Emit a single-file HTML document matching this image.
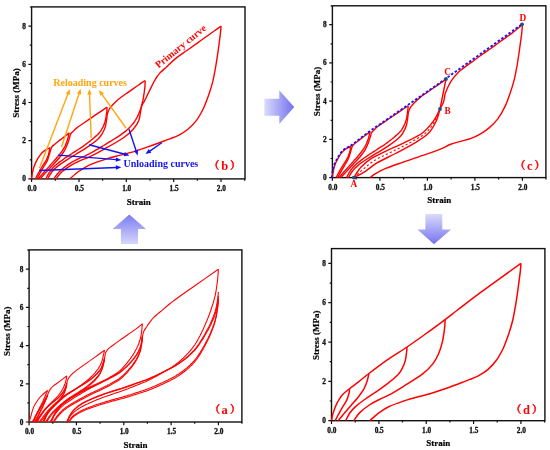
<!DOCTYPE html>
<html><head><meta charset="utf-8"><title>Stress-strain</title>
<style>html,body{margin:0;padding:0;background:#fff;}svg{display:block;}</style></head>
<body><svg width="550" height="450" viewBox="0 0 550 450">
<rect width="550" height="450" fill="#fff"/>
<defs>
<linearGradient id="gu" x1="0" y1="0" x2="0" y2="1"><stop offset="0" stop-color="#7b7bf2"/><stop offset="1" stop-color="#d6d6fc"/></linearGradient>
<linearGradient id="gr" x1="0" y1="0" x2="1" y2="0"><stop offset="0" stop-color="#dadafc"/><stop offset="1" stop-color="#7171f0"/></linearGradient>
<linearGradient id="gd" x1="0" y1="0" x2="0" y2="1"><stop offset="0" stop-color="#dadafc"/><stop offset="1" stop-color="#7474f0"/></linearGradient>
</defs>
<path d="M129.3 214.4 L146 229 L138 229 L138 244 L120.9 244 L120.9 229 L112.7 229 Z" fill="url(#gu)"/>
<path d="M294.2 107 L279.3 124 L279.3 115.7 L264.4 115.7 L264.4 98.7 L279.3 98.7 L279.3 90.2 Z" fill="url(#gr)"/>
<path d="M434 244.2 L451 229.6 L442.3 229.6 L442.3 214 L425.4 214 L425.4 229.6 L417.4 229.6 Z" fill="url(#gd)"/>
<rect x="29.1" y="249.9" width="212.8" height="172.1" fill="none" stroke="#111" stroke-width="1.4"/>
<path d="M29.1 422v3.2M52.8 422v1.8M76.4 422v3.2M100.1 422v1.8M123.8 422v3.2M147.4 422v1.8M171.1 422v3.2M194.7 422v1.8M218.4 422v3.2M241.9 422v1.8M29.1 422h-3.2M29.1 402.9h-1.8M29.1 383.8h-3.2M29.1 364.7h-1.8M29.1 345.6h-3.2M29.1 326.5h-1.8M29.1 307.4h-3.2M29.1 288.3h-1.8M29.1 269.2h-3.2M29.1 250.1h-1.8" stroke="#111" stroke-width="1.2" fill="none"/>
<g font-family="'Liberation Serif','Times New Roman',serif" font-weight="bold" font-size="7.3" fill="#111" stroke="#111" stroke-width="0.3"><text x="29.5" y="434.4" text-anchor="middle">0.0</text><text x="76.8" y="434.4" text-anchor="middle">0.5</text><text x="124.2" y="434.4" text-anchor="middle">1.0</text><text x="171.5" y="434.4" text-anchor="middle">1.5</text><text x="218.8" y="434.4" text-anchor="middle">2.0</text><text x="23.4" y="424.5" text-anchor="end">0</text><text x="23.4" y="386.3" text-anchor="end">2</text><text x="23.4" y="348.1" text-anchor="end">4</text><text x="23.4" y="309.9" text-anchor="end">6</text><text x="23.4" y="271.7" text-anchor="end">8</text></g>
<text transform="translate(9.6 331.2) rotate(-90)" text-anchor="middle" font-family="'Liberation Serif','Times New Roman',serif" font-weight="bold" font-size="9" fill="#000" stroke="#000" stroke-width="0.2">Stress (MPa)</text>
<text x="135.5" y="448" text-anchor="middle" font-family="'Liberation Serif','Times New Roman',serif" font-weight="bold" font-size="9" fill="#000" stroke="#000" stroke-width="0.2">Strain</text>
<g fill="none" stroke="#f00" stroke-width="1.1" stroke-linejoin="round"><path d="M29.1 422C29.2 421.7 29.4 421 29.7 420.1C30 419.1 30.1 418.5 30.8 416.3C31.5 414.1 32.5 409.6 33.7 406.9C34.9 404.2 36.6 401.8 38 399.8C39.4 397.8 40.7 396.4 42.3 394.9C43.8 393.3 46.7 391.2 47.6 390.5" /><path d="M32.1 422L32.2 421.9L32.3 421.7L32.4 421.6L32.5 421.4L32.6 421.3L32.8 421L33 420.7L33.2 420.4L33.4 420L33.7 419.5L34 418.9L34.3 418.2L34.7 417.4L35.1 416.6L35.6 415.8L36 414.9L36.5 413.9L37 413L37.4 412.1L37.8 411.3L38.3 410.4L38.7 409.6L39.1 408.7L39.6 407.9L40 407L40.5 406.1L40.9 405.3L41.3 404.4L41.8 403.6L42.2 402.8L42.6 401.9L42.9 401.1L43.3 400.3L43.7 399.4L44.1 398.6L44.4 397.8L44.8 397L45.1 396.2L45.4 395.5L45.7 394.9L46 394.3L46.2 393.7L46.4 393.2L46.7 392.7L46.9 392.2L47 391.8L47.2 391.4L47.3 391L47.5 390.7L47.6 390.5"/><path d="M32.8 422L32.9 421.8L33 421.6L33 421.3L33.2 421.1L33.3 420.9L33.4 420.6L33.6 420.2L33.8 419.8L34 419.4L34.3 418.8L34.6 418.2L34.9 417.5L35.3 416.8L35.7 416L36.1 415.1L36.5 414.3L37 413.5L37.4 412.7L37.8 411.9L38.3 411.2L38.7 410.4L39.1 409.7L39.5 409L39.9 408.3L40.4 407.6L40.8 406.9L41.2 406.2L41.6 405.5L42 404.8L42.4 404.2L42.8 403.5L43.1 402.9L43.5 402.2L43.9 401.6L44.2 400.9L44.6 400.3L44.9 399.7L45.2 399.2L45.5 398.6L45.8 398.1L46 397.7L46.3 397.3L46.5 396.9L46.7 396.5L46.9 396.1L47.1 395.8L47.2 395.5L47.3 395.3L47.5 395.1L47.6 394.9"/><path d="M33.5 422L33.5 421.7L33.6 421.5L33.7 421.3L33.8 421L33.9 420.7L34.1 420.4L34.2 420.1L34.4 419.6L34.6 419.2L34.9 418.6L35.1 418L35.5 417.3L35.8 416.5L36.2 415.7L36.6 414.9L37 414L37.4 413.2L37.9 412.4L38.3 411.6L38.7 410.9L39.1 410.2L39.5 409.5L39.9 408.8L40.3 408.1L40.7 407.4L41.1 406.7L41.5 406L41.9 405.3L42.3 404.7L42.6 404L43 403.4L43.3 402.8L43.7 402.1L44 401.5L44.4 400.9L44.7 400.3L45 399.7L45.3 399.2L45.6 398.7L45.9 398.2L46.1 397.8L46.3 397.4L46.5 397L46.7 396.6L46.9 396.3L47.1 396L47.2 395.7L47.4 395.5L47.5 395.2L47.6 395.1"/><path d="M34.3 422L34.4 421.9L34.4 421.8L34.5 421.7L34.6 421.5L34.7 421.4L34.9 421.2L35 420.9L35.2 420.6L35.4 420.3L35.6 419.9L35.9 419.4L36.2 418.8L36.5 418.1L36.9 417.4L37.3 416.7L37.7 415.9L38.1 415.2L38.4 414.4L38.8 413.6L39.2 412.9L39.6 412.2L40 411.5L40.3 410.7L40.7 410L41.1 409.3L41.5 408.6L41.9 407.8L42.2 407.1L42.6 406.4L42.9 405.7L43.3 405L43.6 404.3L43.9 403.6L44.3 402.8L44.6 402.1L44.9 401.4L45.2 400.8L45.5 400.1L45.7 399.6L46 399L46.2 398.5L46.4 398L46.6 397.5L46.8 397.1L47 396.7L47.1 396.3L47.2 396L47.4 395.7L47.5 395.5L47.6 395.3"/><path d="M35.1 422L35.1 421.9L35.2 421.8L35.3 421.7L35.4 421.6L35.5 421.4L35.6 421.3L35.7 421L35.9 420.8L36.1 420.4L36.3 420L36.6 419.6L36.8 419L37.2 418.4L37.5 417.7L37.9 417L38.2 416.2L38.6 415.5L39 414.7L39.3 414L39.7 413.3L40 412.6L40.4 411.8L40.7 411.1L41.1 410.4L41.5 409.7L41.8 408.9L42.2 408.2L42.5 407.5L42.9 406.7L43.2 406L43.5 405.3L43.8 404.6L44.1 403.9L44.4 403.2L44.7 402.4L45 401.7L45.3 401.1L45.6 400.4L45.8 399.8L46.1 399.3L46.3 398.8L46.5 398.3L46.7 397.8L46.8 397.3L47 396.9L47.1 396.6L47.3 396.2L47.4 395.9L47.5 395.7L47.6 395.5"/><path d="M35.5 422L35.8 421.7L36 421.3L36.3 420.9L36.7 420.4L37.1 419.9L37.5 419.4L37.9 418.8L38.4 418.2L38.8 417.6L39.3 416.9L39.7 416.3L40.2 415.6L40.7 414.9L41.2 414.1L41.8 413.4L42.3 412.6L42.9 411.8L43.4 411.1L44 410.3L44.6 409.6L45.2 408.9L45.8 408.2L46.5 407.5L47.1 406.8L47.8 406.1L48.4 405.4L49.1 404.7L49.8 404L50.5 403.4L51.2 402.7L51.8 402L52.5 401.3L53.3 400.6L54 399.9L54.7 399.2L55.4 398.6L56.1 397.9L56.8 397.2L57.4 396.5L58 395.8L58.6 395L59.2 394.3L59.7 393.6L60.3 392.8L60.8 392.1L61.3 391.3L61.8 390.6L62.2 389.8L62.6 389.1L63 388.4L63.4 387.7L63.7 387L64 386.2L64.3 385.5L64.6 384.8L64.8 384.1L65.1 383.4L65.3 382.8L65.5 382.1L65.7 381.5L65.9 380.9L66 380.2L66.2 379.6L66.3 378.9L66.4 378.3L66.5 377.7L66.6 377.2L66.6 376.7L66.7 376.3L66.8 376"/><path d="M36.5 422L36.7 421.5L37 420.9L37.3 420.4L37.6 419.8L38 419.2L38.4 418.6L38.8 417.9L39.2 417.3L39.7 416.6L40.1 416L40.6 415.4L41 414.7L41.5 414L42 413.3L42.5 412.6L43 411.8L43.6 411.1L44.1 410.4L44.7 409.8L45.3 409.1L45.9 408.5L46.5 407.9L47.1 407.3L47.7 406.7L48.4 406.1L49 405.6L49.7 405L50.3 404.4L51 403.8L51.6 403.3L52.3 402.7L53 402.1L53.7 401.6L54.4 401L55.1 400.5L55.7 399.9L56.4 399.4L57.1 398.8L57.7 398.3L58.3 397.7L58.9 397.2L59.4 396.6L59.9 396L60.5 395.4L61 394.9L61.4 394.3L61.9 393.7L62.3 393.1L62.8 392.6L63.1 392L63.5 391.5L63.8 391L64.1 390.4L64.4 389.9L64.7 389.4L64.9 388.8L65.1 388.3L65.3 387.8L65.5 387.3L65.7 386.9L65.9 386.4L66 385.9L66.2 385.5L66.3 385L66.4 384.5L66.5 384.1L66.6 383.7L66.7 383.4L66.7 383.1L66.8 382.8"/><path d="M37.4 422L37.6 421.4L37.9 420.8L38.2 420.2L38.5 419.6L38.9 418.9L39.3 418.3L39.7 417.6L40.1 416.9L40.5 416.3L41 415.6L41.4 415L41.8 414.3L42.3 413.6L42.8 412.8L43.3 412.1L43.8 411.4L44.3 410.7L44.8 410L45.4 409.3L45.9 408.7L46.5 408.1L47.1 407.5L47.7 406.9L48.3 406.3L48.9 405.7L49.6 405.1L50.2 404.6L50.8 404L51.5 403.4L52.1 402.9L52.7 402.3L53.4 401.8L54.1 401.2L54.7 400.7L55.4 400.1L56.1 399.6L56.7 399.1L57.4 398.5L58 398L58.6 397.4L59.1 396.9L59.6 396.3L60.2 395.8L60.7 395.2L61.1 394.6L61.6 394.1L62.1 393.5L62.5 393L62.9 392.4L63.2 391.9L63.6 391.4L63.9 390.9L64.2 390.3L64.5 389.8L64.7 389.3L65 388.8L65.2 388.3L65.4 387.8L65.6 387.4L65.7 386.9L65.9 386.5L66.1 386L66.2 385.5L66.3 385.1L66.4 384.7L66.5 384.3L66.6 383.9L66.7 383.5L66.7 383.3L66.8 383"/><path d="M39 422L39.2 421.8L39.5 421.5L39.7 421.1L40.1 420.7L40.4 420.3L40.8 419.8L41.2 419.3L41.6 418.8L42 418.3L42.4 417.8L42.8 417.2L43.2 416.6L43.6 416L44.1 415.4L44.6 414.8L45 414.1L45.5 413.5L46 412.8L46.6 412.2L47.1 411.6L47.6 411L48.2 410.4L48.7 409.8L49.3 409.2L49.9 408.7L50.5 408.1L51.1 407.5L51.7 406.9L52.3 406.4L52.9 405.8L53.5 405.2L54.1 404.6L54.8 404.1L55.4 403.5L56 402.9L56.7 402.4L57.3 401.8L57.9 401.2L58.5 400.6L59 400L59.5 399.4L60 398.8L60.5 398.2L61 397.5L61.5 396.9L61.9 396.3L62.3 395.7L62.7 395.1L63.1 394.4L63.4 393.8L63.8 393.2L64.1 392.6L64.3 392L64.6 391.4L64.8 390.8L65.1 390.3L65.3 389.7L65.5 389.1L65.6 388.6L65.8 388L66 387.5L66.1 387L66.2 386.4L66.3 385.9L66.4 385.4L66.5 384.9L66.6 384.4L66.7 384L66.7 383.7L66.8 383.4"/><path d="M40.3 422L40.5 421.8L40.7 421.5L40.9 421.2L41.2 420.8L41.6 420.4L41.9 420L42.3 419.5L42.7 419.1L43.1 418.6L43.4 418.1L43.8 417.6L44.2 417L44.7 416.4L45.1 415.8L45.6 415.2L46 414.6L46.5 413.9L47 413.3L47.5 412.7L48 412.1L48.5 411.5L49 410.9L49.5 410.3L50.1 409.8L50.7 409.2L51.2 408.6L51.8 408.1L52.4 407.5L52.9 406.9L53.5 406.4L54.1 405.8L54.7 405.2L55.3 404.7L55.9 404.1L56.5 403.5L57.1 402.9L57.7 402.4L58.3 401.8L58.8 401.2L59.4 400.6L59.8 400L60.3 399.4L60.8 398.7L61.3 398.1L61.7 397.5L62.1 396.9L62.5 396.2L62.9 395.6L63.3 395L63.6 394.4L63.9 393.8L64.2 393.2L64.5 392.6L64.7 392L64.9 391.4L65.1 390.8L65.3 390.2L65.5 389.6L65.7 389.1L65.8 388.5L66 388L66.1 387.4L66.2 386.9L66.4 386.3L66.4 385.8L66.5 385.3L66.6 384.8L66.7 384.4L66.7 384.1L66.8 383.8"/><path d="M42.8 422L43 421.7L43.2 421.3L43.4 420.8L43.7 420.2L44 419.6L44.3 419L44.7 418.3L45 417.6L45.5 416.9L45.9 416.3L46.4 415.6L46.8 414.9L47.3 414.2L47.9 413.4L48.4 412.7L49 411.9L49.7 411.1L50.4 410.2L51.2 409.3L52.1 408.4L53.1 407.3L54.2 406.2L55.3 405.1L56.6 403.9L57.9 402.7L59.2 401.4L60.5 400.2L61.9 399L63.2 397.9L64.4 396.9L65.7 395.9L66.9 394.9L68.2 394L69.4 393.2L70.7 392.3L72 391.5L73.2 390.7L74.4 389.9L75.6 389.1L76.8 388.2L77.9 387.4L79 386.6L80.1 385.8L81.2 385.1L82.2 384.3L83.3 383.5L84.3 382.7L85.3 382L86.3 381.2L87.3 380.3L88.2 379.5L89.2 378.7L90.1 377.8L91 377L91.9 376.1L92.8 375.3L93.6 374.4L94.4 373.5L95.2 372.6L95.9 371.7L96.6 370.8L97.2 370L97.9 369.1L98.5 368.2L99 367.3L99.6 366.4L100.1 365.4L100.5 364.5L101 363.4L101.5 362.4L101.9 361.2L102.3 359.9L102.7 358.6L103 357.1L103.3 355.7L103.6 354.3L103.9 353L104.2 351.9L104.4 350.9L104.5 350.2"/><path d="M43.6 422L43.7 421.3L43.9 420.7L44.2 420L44.4 419.2L44.7 418.5L45 417.7L45.4 416.9L45.8 416.1L46.2 415.3L46.6 414.5L47.1 413.8L47.6 413L48 412.3L48.6 411.5L49.1 410.7L49.7 409.9L50.4 409.1L51.1 408.2L51.9 407.3L52.7 406.4L53.7 405.4L54.8 404.4L55.9 403.3L57.2 402.2L58.4 401L59.7 399.9L61.1 398.8L62.4 397.7L63.7 396.7L64.9 395.8L66.1 394.9L67.4 394.1L68.6 393.3L69.9 392.6L71.1 391.8L72.4 391.1L73.6 390.4L74.8 389.7L76 389L77.1 388.3L78.2 387.6L79.3 387L80.4 386.3L81.5 385.6L82.5 385L83.5 384.4L84.6 383.7L85.5 383.1L86.5 382.4L87.5 381.7L88.4 381L89.3 380.4L90.3 379.7L91.2 379L92 378.3L92.9 377.6L93.7 376.9L94.5 376.2L95.3 375.5L96 374.7L96.7 374L97.3 373.3L97.9 372.6L98.5 371.9L99.1 371.2L99.6 370.5L100.1 369.8L100.6 369L101.1 368.2L101.5 367.4L101.9 366.5L102.3 365.5L102.7 364.4L103 363.3L103.4 362.2L103.7 361.2L103.9 360.2L104.2 359.3L104.4 358.6L104.5 358"/><path d="M44.3 422L44.5 421.2L44.7 420.5L44.9 419.7L45.2 418.9L45.5 418.1L45.8 417.3L46.1 416.4L46.5 415.6L46.9 414.8L47.3 414L47.8 413.2L48.3 412.4L48.7 411.7L49.3 410.9L49.8 410.1L50.4 409.2L51 408.4L51.7 407.5L52.5 406.6L53.4 405.7L54.3 404.7L55.4 403.7L56.5 402.6L57.8 401.4L59 400.3L60.3 399.2L61.6 398.1L62.9 397L64.2 396L65.4 395.1L66.6 394.3L67.8 393.4L69.1 392.7L70.3 391.9L71.5 391.2L72.8 390.5L74 389.8L75.2 389.1L76.3 388.4L77.4 387.8L78.6 387.1L79.6 386.4L80.7 385.8L81.8 385.1L82.8 384.5L83.8 383.9L84.8 383.2L85.8 382.6L86.7 382L87.7 381.3L88.6 380.6L89.5 380L90.4 379.3L91.3 378.6L92.2 378L93 377.3L93.9 376.6L94.6 375.9L95.4 375.2L96.1 374.5L96.8 373.8L97.4 373.2L98 372.5L98.6 371.8L99.2 371.1L99.7 370.4L100.2 369.7L100.6 369L101.1 368.2L101.5 367.4L101.9 366.5L102.3 365.6L102.7 364.5L103 363.5L103.4 362.4L103.7 361.4L103.9 360.5L104.2 359.6L104.4 358.9L104.5 358.4"/><path d="M45.9 422L46.1 421.7L46.3 421.3L46.5 420.9L46.8 420.4L47 419.9L47.4 419.4L47.7 418.8L48.1 418.2L48.5 417.6L48.9 417L49.3 416.4L49.8 415.7L50.2 415.1L50.7 414.5L51.3 413.8L51.8 413.1L52.5 412.4L53.1 411.6L53.9 410.9L54.7 410L55.7 409.1L56.7 408.2L57.8 407.2L59 406.1L60.2 405L61.5 403.9L62.8 402.9L64 401.8L65.3 400.9L66.5 399.9L67.6 399.1L68.8 398.3L70 397.5L71.2 396.7L72.4 396L73.6 395.2L74.8 394.5L75.9 393.8L77.1 393.1L78.2 392.4L79.2 391.7L80.3 391L81.3 390.3L82.4 389.6L83.4 388.9L84.4 388.2L85.3 387.5L86.3 386.9L87.2 386.2L88.1 385.4L89 384.7L89.9 384L90.8 383.2L91.7 382.5L92.5 381.7L93.3 381L94.1 380.2L94.9 379.4L95.6 378.7L96.3 377.9L97 377.1L97.6 376.3L98.2 375.5L98.8 374.8L99.3 374L99.8 373.2L100.3 372.3L100.7 371.5L101.2 370.6L101.6 369.7L102 368.7L102.4 367.5L102.7 366.3L103.1 365.1L103.4 363.8L103.7 362.6L103.9 361.5L104.2 360.5L104.4 359.6L104.5 359"/><path d="M46.7 422L46.9 421.8L47.1 421.4L47.3 421.1L47.5 420.6L47.8 420.1L48.1 419.6L48.4 419.1L48.8 418.5L49.2 417.9L49.6 417.4L50 416.8L50.5 416.2L50.9 415.6L51.4 415L51.9 414.4L52.5 413.7L53.1 413L53.8 412.3L54.6 411.5L55.4 410.7L56.3 409.8L57.3 408.9L58.4 407.9L59.6 406.9L60.8 405.8L62 404.8L63.3 403.7L64.5 402.7L65.8 401.7L66.9 400.8L68.1 400L69.3 399.2L70.5 398.4L71.7 397.6L72.8 396.9L74 396.2L75.2 395.4L76.3 394.7L77.4 394L78.5 393.3L79.6 392.6L80.6 391.9L81.6 391.2L82.7 390.5L83.6 389.8L84.6 389.2L85.6 388.5L86.5 387.8L87.4 387.1L88.3 386.4L89.2 385.6L90.1 384.9L91 384.1L91.8 383.4L92.7 382.6L93.5 381.9L94.3 381.1L95 380.3L95.8 379.5L96.4 378.7L97.1 378L97.7 377.2L98.3 376.4L98.8 375.6L99.4 374.8L99.9 374L100.3 373.2L100.8 372.3L101.2 371.4L101.6 370.4L102 369.4L102.4 368.3L102.8 367L103.1 365.8L103.4 364.5L103.7 363.3L104 362.1L104.2 361.1L104.4 360.2L104.5 359.5"/><path d="M50.1 422L50.5 421.4L50.9 420.6L51.5 419.7L52.1 418.7L52.8 417.6L53.5 416.5L54.2 415.4L55 414.2L55.8 413.2L56.6 412.2L57.3 411.3L58.1 410.4L58.8 409.6L59.5 408.8L60.3 407.9L61.2 407.1L62.1 406.3L63.2 405.3L64.4 404.4L65.8 403.3L67.4 402.2L69.2 401L71.3 399.7L73.4 398.3L75.6 396.9L77.8 395.5L80.1 394.2L82.2 392.9L84.2 391.7L86.1 390.6L87.8 389.6L89.5 388.7L91.1 387.8L92.7 387L94.2 386.2L95.6 385.5L97 384.8L98.4 384.1L99.6 383.4L100.9 382.7L102 382.1L103 381.5L104 381L104.9 380.5L105.7 380L106.5 379.5L107.4 379.1L108.2 378.5L109.1 378L110.1 377.3L111.1 376.7L112.2 376L113.2 375.4L114.3 374.7L115.4 374L116.6 373.3L117.7 372.5L118.9 371.6L120 370.6L121.2 369.5L122.4 368.3L123.6 366.9L124.9 365.4L126.2 363.9L127.5 362.3L128.8 360.7L130.1 359L131.2 357.4L132.3 355.8L133.4 354.3L134.3 352.8L135.1 351.3L135.9 349.8L136.7 348.4L137.3 346.9L138 345.5L138.6 344L139.1 342.5L139.6 341L140.1 339.5L140.5 337.9L140.9 336.2L141.2 334.4L141.4 332.6L141.7 330.8L141.9 329L142 327.4L142.2 326L142.3 324.8L142.4 323.8"/><path d="M50.9 422L51.2 420.9L51.7 419.8L52.2 418.5L52.8 417.2L53.5 415.9L54.2 414.6L55 413.3L55.7 412.1L56.5 410.9L57.3 409.9L58 408.9L58.8 408L59.5 407.2L60.2 406.4L61 405.5L61.8 404.7L62.8 403.9L63.9 403L65.1 402L66.4 401L68 400L69.8 398.8L71.8 397.6L74 396.3L76.2 395L78.4 393.8L80.6 392.6L82.7 391.4L84.7 390.3L86.6 389.4L88.3 388.5L89.9 387.7L91.5 386.9L93.1 386.2L94.6 385.5L96 384.9L97.4 384.3L98.7 383.7L100 383.1L101.2 382.6L102.3 382L103.4 381.5L104.3 381.1L105.2 380.7L106 380.3L106.8 379.9L107.7 379.4L108.5 379L109.4 378.5L110.4 378L111.4 377.4L112.4 376.9L113.5 376.4L114.6 375.8L115.7 375.2L116.8 374.6L117.9 373.9L119 373.2L120.2 372.4L121.3 371.5L122.5 370.5L123.8 369.4L125.1 368.2L126.4 367L127.7 365.7L128.9 364.4L130.2 363.1L131.3 361.8L132.4 360.5L133.4 359.3L134.3 358.1L135.2 357L136 355.8L136.7 354.7L137.4 353.6L138 352.4L138.6 351.3L139.1 350.2L139.6 349L140.1 347.9L140.5 346.7L140.9 345.4L141.2 344L141.4 342.6L141.7 341.2L141.9 339.9L142 338.7L142.2 337.7L142.3 336.7L142.4 336.1"/><path d="M51.6 422L52 420.7L52.4 419.5L53 418.1L53.6 416.7L54.2 415.3L54.9 414L55.7 412.6L56.4 411.3L57.2 410.1L58 409L58.7 408.1L59.4 407.2L60.2 406.3L60.9 405.5L61.7 404.6L62.5 403.8L63.4 402.9L64.5 402L65.7 401.1L67.1 400.1L68.6 399L70.4 397.8L72.4 396.6L74.5 395.3L76.7 394L78.9 392.8L81.1 391.6L83.2 390.4L85.2 389.3L87 388.4L88.7 387.5L90.4 386.7L92 386L93.5 385.2L95 384.6L96.4 384L97.8 383.3L99.1 382.8L100.3 382.2L101.5 381.6L102.7 381.1L103.7 380.6L104.6 380.2L105.5 379.8L106.3 379.4L107.1 379L107.9 378.6L108.8 378.1L109.7 377.7L110.6 377.1L111.6 376.6L112.7 376.1L113.7 375.5L114.8 375L115.9 374.4L117 373.8L118.1 373.2L119.2 372.4L120.4 371.6L121.5 370.8L122.7 369.8L123.9 368.7L125.2 367.6L126.5 366.3L127.8 365.1L129 363.8L130.3 362.5L131.4 361.3L132.5 360.1L133.5 358.9L134.4 357.7L135.2 356.6L136 355.5L136.7 354.4L137.4 353.3L138 352.2L138.6 351.1L139.2 350.1L139.7 348.9L140.1 347.8L140.5 346.7L140.9 345.4L141.2 344.1L141.5 342.7L141.7 341.4L141.9 340.2L142 339L142.2 338L142.3 337.1L142.4 336.4"/><path d="M53 422L53.3 421.5L53.8 420.8L54.3 420L54.9 419.2L55.5 418.2L56.2 417.2L56.9 416.3L57.7 415.3L58.4 414.4L59.2 413.5L60 412.7L60.7 412L61.4 411.3L62.1 410.5L62.8 409.8L63.7 409.1L64.6 408.4L65.6 407.6L66.8 406.7L68.2 405.9L69.7 404.9L71.5 403.8L73.4 402.7L75.5 401.5L77.7 400.3L79.8 399.1L82 397.9L84.1 396.8L86 395.7L87.8 394.8L89.5 393.9L91.1 393.1L92.7 392.4L94.2 391.7L95.7 391L97.1 390.4L98.4 389.8L99.7 389.2L101 388.6L102.1 388L103.2 387.5L104.2 387L105.2 386.5L106 386.1L106.8 385.7L107.6 385.2L108.4 384.8L109.3 384.4L110.1 383.9L111.1 383.3L112.1 382.8L113.1 382.2L114.1 381.6L115.2 381.1L116.3 380.5L117.4 379.8L118.5 379.1L119.6 378.3L120.7 377.5L121.8 376.5L123 375.5L124.2 374.3L125.5 373L126.7 371.7L128 370.3L129.2 368.9L130.4 367.5L131.6 366.1L132.7 364.7L133.6 363.4L134.5 362.1L135.3 360.8L136.1 359.5L136.8 358.3L137.5 357L138.1 355.7L138.7 354.5L139.2 353.2L139.7 351.9L140.2 350.6L140.6 349.2L140.9 347.7L141.2 346.2L141.5 344.6L141.7 343L141.9 341.5L142 340.1L142.2 338.9L142.3 337.8L142.4 337"/><path d="M53.7 422L54.1 421.6L54.5 421L55 420.3L55.6 419.5L56.3 418.6L56.9 417.7L57.7 416.7L58.4 415.8L59.2 414.9L59.9 414.1L60.6 413.4L61.4 412.7L62 412L62.8 411.3L63.5 410.6L64.3 409.9L65.3 409.2L66.3 408.4L67.5 407.6L68.8 406.7L70.3 405.8L72.1 404.7L74 403.6L76.1 402.5L78.2 401.3L80.4 400.1L82.5 399L84.6 397.9L86.5 396.8L88.3 395.9L90 395L91.6 394.2L93.1 393.5L94.6 392.8L96.1 392.1L97.4 391.5L98.8 390.9L100.1 390.3L101.3 389.7L102.5 389.1L103.6 388.6L104.6 388.1L105.5 387.7L106.3 387.2L107.1 386.8L107.9 386.4L108.7 386L109.6 385.5L110.4 385L111.4 384.5L112.3 383.9L113.4 383.4L114.4 382.8L115.4 382.2L116.5 381.6L117.6 381L118.7 380.3L119.8 379.5L120.9 378.6L122 377.7L123.1 376.6L124.4 375.4L125.6 374.2L126.9 372.8L128.1 371.4L129.3 370L130.5 368.6L131.7 367.1L132.7 365.7L133.7 364.4L134.6 363.1L135.4 361.8L136.2 360.5L136.9 359.2L137.5 358L138.1 356.7L138.7 355.4L139.2 354.1L139.7 352.8L140.2 351.5L140.6 350L140.9 348.5L141.2 346.9L141.5 345.3L141.7 343.7L141.9 342.2L142 340.8L142.2 339.5L142.3 338.4L142.4 337.6"/><path d="M66.5 422L66.8 421.5L67.1 421L67.5 420.3L68 419.5L68.5 418.6L69 417.8L69.6 416.9L70.3 416L70.9 415.1L71.7 414.4L72.4 413.6L73.2 412.9L74.1 412.1L74.9 411.4L75.9 410.7L76.9 409.9L77.9 409.2L78.9 408.5L80.1 407.8L81.2 407.1L82.4 406.4L83.7 405.7L85.1 405L86.5 404.3L88 403.7L89.4 403L90.9 402.4L92.4 401.7L93.9 401.1L95.4 400.5L96.8 399.8L98.3 399.3L99.8 398.7L101.3 398.1L102.7 397.5L104.2 397L105.7 396.4L107.2 395.9L108.7 395.4L110.1 394.9L111.5 394.4L112.9 393.9L114.3 393.5L115.6 393L117 392.6L118.3 392.2L119.7 391.7L121 391.3L122.4 390.8L123.8 390.3L125.2 389.8L126.6 389.2L128 388.7L129.5 388.1L130.9 387.5L132.4 387L133.8 386.4L135.2 385.8L136.6 385.3L137.9 384.7L139.2 384.2L140.4 383.7L141.5 383.3L142.7 382.8L143.8 382.3L145 381.9L146.1 381.4L147.3 380.8L148.6 380.2L149.9 379.6L151.3 378.9L152.8 378.1L154.3 377.3L155.9 376.4L157.6 375.5L159.2 374.6L160.7 373.7L162.3 372.8L163.7 372L165.1 371.2L166.3 370.5L167.5 369.8L168.7 369.1L169.7 368.4L170.8 367.8L171.8 367.2L172.8 366.5L173.8 365.8L174.8 365.1L175.9 364.3L176.9 363.5L178 362.7L179 361.8L180.1 360.9L181.2 360L182.2 359L183.2 358.1L184.2 357.1L185.2 356.1L186.2 355.1L187.1 354.2L188.1 353.2L189 352.2L189.9 351.2L190.7 350.1L191.6 349.1L192.4 348L193.3 346.9L194.1 345.8L194.9 344.7L195.6 343.5L196.4 342.3L197.1 341L197.8 339.7L198.5 338.5L199.2 337.2L199.9 335.9L200.5 334.6L201.1 333.4L201.7 332.2L202.2 331.1L202.8 330L203.3 329L203.7 327.9L204.2 326.9L204.6 325.9L205.1 324.9L205.5 323.9L205.9 322.8L206.4 321.8L206.9 320.7L207.3 319.6L207.7 318.5L208.2 317.4L208.6 316.3L209.1 315.1L209.5 314L209.9 312.8L210.4 311.6L210.8 310.3L211.2 309L211.7 307.6L212.1 306.2L212.6 304.8L213.1 303.4L213.5 301.9L213.9 300.4L214.3 298.9L214.7 297.4L215.1 295.9L215.4 294.4L215.7 292.9L216 291.3L216.2 289.7L216.5 288.1L216.7 286.5L216.9 285L217.1 283.5L217.3 282L217.5 280.7L217.6 279.3L217.8 277.9L217.9 276.6L218 275.3L218.1 274L218.2 272.8L218.2 271.7L218.3 270.7L218.4 269.9L218.4 269.2"/><path d="M67.1 422L67.3 421.1L67.7 420.1L68.1 419.1L68.5 418L69 416.9L69.6 415.8L70.2 414.7L70.8 413.7L71.5 412.7L72.2 411.8L73 411L73.8 410.2L74.6 409.4L75.5 408.6L76.4 407.8L77.4 407L78.4 406.2L79.5 405.5L80.6 404.8L81.7 404L83 403.3L84.2 402.6L85.6 401.9L87 401.3L88.5 400.6L89.9 399.9L91.4 399.3L92.9 398.6L94.4 398L95.8 397.4L97.3 396.8L98.7 396.3L100.2 395.7L101.7 395.2L103.2 394.6L104.7 394.1L106.1 393.6L107.6 393.1L109.1 392.6L110.5 392.1L111.9 391.7L113.3 391.2L114.6 390.8L116 390.4L117.3 390L118.7 389.6L120 389.2L121.4 388.8L122.7 388.3L124.1 387.9L125.5 387.4L126.9 386.9L128.4 386.4L129.8 385.9L131.3 385.4L132.7 384.9L134.1 384.3L135.5 383.8L136.9 383.3L138.2 382.8L139.5 382.4L140.7 382L141.8 381.5L143 381.1L144.1 380.7L145.2 380.3L146.4 379.9L147.6 379.4L148.8 378.9L150.1 378.3L151.5 377.7L153 377L154.6 376.3L156.2 375.5L157.8 374.8L159.4 374L161 373.2L162.5 372.5L163.9 371.7L165.3 371.1L166.5 370.4L167.7 369.8L168.8 369.3L169.9 368.7L171 368.2L172 367.6L173 367.1L174 366.5L175 365.9L176 365.3L177.1 364.6L178.1 363.9L179.2 363.1L180.3 362.4L181.3 361.6L182.3 360.9L183.4 360.1L184.4 359.3L185.4 358.5L186.3 357.7L187.3 356.9L188.2 356.1L189.1 355.2L190 354.4L190.8 353.6L191.7 352.7L192.5 351.9L193.4 351L194.2 350.1L194.9 349.2L195.7 348.3L196.5 347.3L197.2 346.3L197.9 345.3L198.6 344.3L199.3 343.2L199.9 342.2L200.6 341.2L201.2 340.3L201.8 339.4L202.3 338.5L202.8 337.6L203.3 336.8L203.8 336L204.2 335.2L204.7 334.5L205.1 333.7L205.6 332.9L206 332.1L206.4 331.2L206.9 330.4L207.3 329.6L207.8 328.7L208.2 327.9L208.7 327L209.1 326.2L209.5 325.3L210 324.4L210.4 323.4L210.8 322.5L211.3 321.5L211.7 320.5L212.2 319.4L212.6 318.3L213.1 317.3L213.5 316.2L213.9 315L214.3 313.9L214.7 312.8L215.1 311.7L215.4 310.6L215.7 309.4L216 308.3L216.2 307.1L216.5 305.9L216.7 304.8L216.9 303.6L217.1 302.5L217.3 301.5L217.5 300.4L217.6 299.5L217.8 298.5L217.9 297.5L218 296.5L218.1 295.6L218.2 294.7L218.2 293.9L218.3 293.2L218.4 292.6L218.4 292.1"/><path d="M67.6 422L67.9 420.9L68.2 419.9L68.6 418.8L69.1 417.6L69.6 416.5L70.1 415.3L70.7 414.2L71.4 413.1L72 412.1L72.7 411.2L73.5 410.3L74.3 409.5L75.1 408.7L76 407.9L76.9 407.1L77.9 406.3L78.9 405.5L80 404.8L81.1 404L82.2 403.3L83.5 402.6L84.8 401.9L86.1 401.2L87.5 400.5L88.9 399.9L90.4 399.2L91.9 398.6L93.4 397.9L94.8 397.3L96.3 396.7L97.7 396.1L99.2 395.6L100.6 395L102.1 394.5L103.6 393.9L105.1 393.4L106.6 392.9L108 392.4L109.5 391.9L110.9 391.5L112.3 391L113.7 390.6L115 390.2L116.4 389.8L117.7 389.4L119.1 389L120.4 388.6L121.7 388.2L123.1 387.7L124.5 387.3L125.9 386.8L127.3 386.3L128.7 385.8L130.1 385.3L131.6 384.8L133 384.3L134.4 383.8L135.8 383.3L137.2 382.8L138.5 382.4L139.8 381.9L141 381.5L142.1 381.1L143.3 380.7L144.4 380.3L145.5 379.9L146.7 379.4L147.8 379L149.1 378.5L150.4 377.9L151.8 377.3L153.3 376.7L154.8 376L156.4 375.2L158 374.5L159.6 373.7L161.2 373L162.7 372.2L164.1 371.6L165.5 370.9L166.7 370.3L167.9 369.7L169 369.2L170.1 368.6L171.1 368.1L172.1 367.6L173.1 367.1L174.1 366.5L175.1 365.9L176.2 365.3L177.2 364.6L178.3 364L179.3 363.3L180.4 362.5L181.4 361.8L182.5 361.1L183.5 360.3L184.5 359.5L185.5 358.8L186.4 358L187.4 357.2L188.3 356.5L189.2 355.7L190.1 354.9L190.9 354.1L191.8 353.3L192.6 352.4L193.5 351.6L194.3 350.8L195 349.9L195.8 349L196.5 348.1L197.3 347.1L198 346.1L198.7 345.2L199.3 344.2L200 343.2L200.6 342.3L201.2 341.4L201.8 340.5L202.4 339.7L202.9 338.9L203.4 338.1L203.9 337.3L204.3 336.6L204.7 335.8L205.2 335.1L205.6 334.3L206 333.6L206.5 332.8L206.9 332L207.4 331.2L207.8 330.4L208.3 329.6L208.7 328.8L209.1 328L209.6 327.1L210 326.3L210.4 325.4L210.9 324.5L211.3 323.6L211.7 322.6L212.2 321.6L212.6 320.6L213.1 319.6L213.5 318.5L214 317.5L214.4 316.4L214.7 315.4L215.1 314.3L215.4 313.3L215.7 312.2L216 311.1L216.3 310L216.5 308.9L216.7 307.8L216.9 306.7L217.1 305.7L217.3 304.7L217.5 303.7L217.7 302.8L217.8 301.9L217.9 301L218 300L218.1 299.2L218.2 298.4L218.2 297.6L218.3 297L218.4 296.4L218.4 295.9"/><path d="M68.2 422L68.5 421.6L68.8 421.2L69.2 420.6L69.7 420L70.2 419.3L70.7 418.6L71.3 417.9L71.9 417.2L72.6 416.5L73.3 415.8L74 415.2L74.8 414.6L75.7 414L76.6 413.5L77.5 412.9L78.4 412.3L79.5 411.7L80.5 411.1L81.6 410.6L82.8 410L84 409.4L85.3 408.9L86.6 408.3L88 407.8L89.4 407.2L90.9 406.7L92.4 406.2L93.8 405.6L95.3 405.1L96.7 404.6L98.2 404.1L99.6 403.7L101.1 403.2L102.6 402.7L104 402.3L105.5 401.8L107 401.4L108.4 401L109.9 400.5L111.3 400.1L112.7 399.7L114.1 399.4L115.4 399L116.8 398.6L118.1 398.3L119.4 397.9L120.8 397.6L122.1 397.2L123.5 396.8L124.8 396.4L126.2 396L127.6 395.6L129 395.1L130.5 394.7L131.9 394.2L133.3 393.8L134.7 393.3L136.1 392.8L137.5 392.4L138.8 391.9L140 391.5L141.2 391.1L142.4 390.8L143.5 390.4L144.7 390L145.8 389.6L146.9 389.2L148.1 388.8L149.4 388.3L150.7 387.8L152 387.2L153.5 386.6L155.1 385.9L156.6 385.2L158.2 384.5L159.8 383.8L161.4 383.1L162.9 382.4L164.3 381.7L165.7 381L166.9 380.4L168.1 379.9L169.2 379.3L170.3 378.8L171.3 378.3L172.3 377.8L173.3 377.3L174.3 376.7L175.3 376.1L176.3 375.5L177.4 374.8L178.4 374.2L179.5 373.4L180.5 372.7L181.6 372L182.6 371.2L183.6 370.5L184.6 369.7L185.6 368.9L186.6 368.1L187.5 367.3L188.4 366.5L189.3 365.7L190.2 364.9L191.1 364L191.9 363.2L192.7 362.3L193.5 361.5L194.3 360.6L195.1 359.7L195.9 358.7L196.6 357.7L197.3 356.7L198.1 355.7L198.7 354.6L199.4 353.6L200.1 352.6L200.7 351.6L201.3 350.6L201.9 349.6L202.4 348.7L202.9 347.8L203.4 347L203.9 346.2L204.4 345.4L204.8 344.5L205.2 343.7L205.7 342.9L206.1 342.1L206.5 341.2L207 340.3L207.4 339.4L207.9 338.5L208.3 337.7L208.7 336.8L209.2 335.8L209.6 334.9L210 334L210.5 333L210.9 331.9L211.3 330.9L211.8 329.8L212.2 328.7L212.7 327.5L213.1 326.3L213.6 325.2L214 324L214.4 322.8L214.7 321.6L215.1 320.4L215.4 319.1L215.7 317.9L216 316.6L216.3 315.3L216.5 314.1L216.7 312.8L216.9 311.5L217.1 310.3L217.3 309.2L217.5 308L217.7 307L217.8 305.9L217.9 304.8L218 303.7L218.1 302.7L218.2 301.7L218.2 300.8L218.3 300L218.4 299.3L218.4 298.8"/><path d="M68.8 422L69 421.7L69.4 421.3L69.8 420.8L70.2 420.2L70.7 419.6L71.3 418.9L71.8 418.3L72.5 417.6L73.1 417L73.8 416.4L74.6 415.8L75.4 415.3L76.2 414.7L77.1 414.1L78 413.6L79 413L80 412.5L81 411.9L82.1 411.4L83.3 410.9L84.5 410.3L85.8 409.8L87.1 409.2L88.5 408.7L89.9 408.2L91.4 407.7L92.8 407.2L94.3 406.7L95.8 406.2L97.2 405.7L98.6 405.2L100.1 404.8L101.5 404.3L103 403.9L104.5 403.4L105.9 403L107.4 402.6L108.9 402.1L110.3 401.7L111.7 401.3L113.1 400.9L114.5 400.6L115.8 400.2L117.1 399.9L118.5 399.5L119.8 399.2L121.1 398.8L122.5 398.5L123.8 398.1L125.2 397.7L126.6 397.3L128 396.9L129.4 396.5L130.8 396L132.2 395.6L133.7 395.1L135.1 394.6L136.4 394.2L137.8 393.8L139.1 393.3L140.3 392.9L141.5 392.5L142.7 392.2L143.8 391.8L144.9 391.4L146.1 391.1L147.2 390.7L148.4 390.2L149.6 389.8L150.9 389.3L152.3 388.7L153.8 388.1L155.3 387.4L156.9 386.7L158.5 386L160.1 385.3L161.6 384.6L163.1 383.9L164.5 383.2L165.9 382.6L167.1 382L168.3 381.4L169.4 380.9L170.5 380.4L171.5 379.8L172.5 379.3L173.5 378.8L174.5 378.2L175.5 377.7L176.5 377L177.5 376.4L178.6 375.7L179.6 375L180.7 374.3L181.7 373.5L182.7 372.8L183.8 372L184.8 371.2L185.7 370.5L186.7 369.7L187.6 368.9L188.5 368.1L189.4 367.3L190.3 366.4L191.2 365.6L192 364.8L192.8 363.9L193.6 363L194.4 362.1L195.2 361.2L196 360.3L196.7 359.3L197.4 358.2L198.1 357.2L198.8 356.2L199.5 355.1L200.1 354.1L200.8 353L201.4 352.1L201.9 351.1L202.5 350.2L203 349.3L203.5 348.5L204 347.6L204.4 346.8L204.8 346L205.3 345.1L205.7 344.3L206.1 343.5L206.6 342.6L207 341.7L207.5 340.8L207.9 339.9L208.3 339L208.8 338.1L209.2 337.2L209.6 336.2L210.1 335.2L210.5 334.2L210.9 333.2L211.4 332.1L211.8 331L212.2 329.9L212.7 328.7L213.1 327.5L213.6 326.3L214 325.1L214.4 323.9L214.8 322.6L215.1 321.4L215.4 320.2L215.7 318.9L216 317.6L216.3 316.3L216.5 315L216.7 313.7L217 312.4L217.1 311.2L217.3 310L217.5 308.8L217.7 307.7L217.8 306.6L217.9 305.5L218 304.4L218.1 303.3L218.2 302.3L218.2 301.4L218.3 300.6L218.4 299.9L218.4 299.4"/><path d="M47.6 395.3C47.7 394.8 48 393.4 48.5 392.4C49 391.4 49.5 390.3 50.4 389.1C51.3 388 52.1 387.1 53.7 385.7C55.4 384.3 58.2 382.6 60.3 380.9C62.5 379.3 65.7 376.8 66.8 376" /><path d="M66.8 383.4C66.9 382.8 67.1 381.3 67.7 380C68.3 378.7 68.8 377.4 70.3 375.8C71.7 374.2 73.8 372.5 76.4 370.4C79 368.4 82.7 365.8 85.9 363.6C89 361.3 92.2 359.1 95.4 356.9C98.5 354.6 103 351.3 104.5 350.2" /><path d="M104.5 359C104.7 358 104.9 354.8 105.5 353.2C106 351.6 107 350.5 107.8 349.4C108.7 348.4 108.7 348.5 110.7 346.9C112.7 345.4 116 342.9 120 340.1C124 337.2 131 332.6 134.7 329.9C138.5 327.2 141.1 324.8 142.4 323.8" /><path d="M142.4 337C142.6 336.1 143.1 333 143.8 331.3C144.5 329.6 145.6 328.3 146.7 326.7C147.7 325.1 149.1 323.2 150.3 321.7C151.4 320.3 151.7 319.5 153.3 317.9C154.9 316.3 156.4 315 160 312C163.6 309 168.6 304.5 174.7 300C180.8 295.4 189.3 289.6 196.6 284.5C203.9 279.4 214.8 271.7 218.4 269.2" /></g>
<g fill="#f00" font-family="'Liberation Serif','Noto Serif CJK SC',serif"><text x="209.7" y="413.1" font-size="10.4" font-weight="bold" stroke="#f00" stroke-width="0.4">（</text><text x="221.6" y="413.9" font-size="12.5" font-weight="bold">a</text><text x="229.9" y="413.1" font-size="10.4" font-weight="bold" stroke="#f00" stroke-width="0.4">）</text></g>
<rect x="31.6" y="6.9" width="213.4" height="172" fill="none" stroke="#111" stroke-width="1.4"/>
<path d="M31.6 178.9v3.2M55.3 178.9v1.8M79 178.9v3.2M102.6 178.9v1.8M126.3 178.9v3.2M150 178.9v1.8M173.7 178.9v3.2M197.3 178.9v1.8M221 178.9v3.2M244.7 178.9v1.8M31.6 178.9h-3.2M31.6 159.8h-1.8M31.6 140.7h-3.2M31.6 121.6h-1.8M31.6 102.5h-3.2M31.6 83.4h-1.8M31.6 64.3h-3.2M31.6 45.2h-1.8M31.6 26.1h-3.2M31.6 7h-1.8" stroke="#111" stroke-width="1.2" fill="none"/>
<g font-family="'Liberation Serif','Times New Roman',serif" font-weight="bold" font-size="7.3" fill="#111" stroke="#111" stroke-width="0.3"><text x="32" y="191.3" text-anchor="middle">0.0</text><text x="79.4" y="191.3" text-anchor="middle">0.5</text><text x="126.7" y="191.3" text-anchor="middle">1.0</text><text x="174.1" y="191.3" text-anchor="middle">1.5</text><text x="221.4" y="191.3" text-anchor="middle">2.0</text><text x="25.9" y="181.4" text-anchor="end">0</text><text x="25.9" y="143.2" text-anchor="end">2</text><text x="25.9" y="105" text-anchor="end">4</text><text x="25.9" y="66.8" text-anchor="end">6</text><text x="25.9" y="28.6" text-anchor="end">8</text></g>
<text transform="translate(19.2 93) rotate(-90)" text-anchor="middle" font-family="'Liberation Serif','Times New Roman',serif" font-weight="bold" font-size="9" fill="#000" stroke="#000" stroke-width="0.2">Stress (MPa)</text>
<text x="138.7" y="205" text-anchor="middle" font-family="'Liberation Serif','Times New Roman',serif" font-weight="bold" font-size="9" fill="#000" stroke="#000" stroke-width="0.2">Strain</text>
<g fill="none" stroke="#f00" stroke-width="1.4" stroke-linejoin="round"><path d="M31.6 178.9C31.7 177.9 32 175 32.4 173.2C32.7 171.4 33 169.8 33.5 168.2C34 166.6 34.4 165.3 35.2 163.6C36 161.9 37.2 159.5 38.2 157.9C39.2 156.2 40 155 41.2 153.7C42.3 152.4 43.8 151 45.3 150.1C46.8 149.1 49.3 148.1 50.1 147.8" /><path d="M49.8 147.6L49.7 147.9L49.7 148.4L49.7 148.9L49.6 149.5L49.5 150.1L49.4 150.8L49.3 151.5L49.1 152.2L48.9 152.9L48.7 153.7L48.5 154.5L48.2 155.4L47.9 156.2L47.6 157.1L47.2 158L46.8 158.8L46.4 159.7L46 160.5L45.5 161.3L45 162.1L44.4 162.9L43.9 163.8L43.3 164.6L42.8 165.5L42.2 166.5L41.6 167.5L41 168.5L40.4 169.5L39.8 170.5L39.3 171.5L38.7 172.5L38.2 173.4L37.8 174.2L37.3 175L36.9 175.8L36.5 176.6L36.1 177.3L35.8 178L35.5 178.5L35.3 178.9"/><path d="M37 178.9C37.4 178.1 38.5 175.9 39.6 173.9C40.7 171.9 42.3 169 43.6 166.9C44.9 164.7 46.3 162.9 47.2 160.9C48.1 158.8 48.6 156.6 49.2 154.8C49.8 153.1 50.1 151.5 50.5 150.2C51 149 51.1 148.1 51.7 147.2C52.2 146.3 52.9 145.7 53.9 144.9C54.8 144.1 56.1 143.1 57.2 142.3C58.2 141.5 59.2 140.7 60.2 139.9C61.2 139.1 62.3 138.4 63.3 137.6C64.3 136.8 65.3 136 66.3 135.2C67.3 134.4 68.9 133.3 69.4 132.9" /><path d="M69 133.1L68.9 133.7L68.7 134.5L68.5 135.4L68.3 136.5L68 137.6L67.7 138.7L67.4 139.9L67.1 140.9L66.8 141.9L66.4 142.8L66 143.8L65.6 144.8L65.2 145.8L64.7 146.8L64.2 147.7L63.6 148.7L63 149.7L62.4 150.7L61.7 151.7L60.9 152.6L60.2 153.6L59.4 154.6L58.6 155.6L57.8 156.6L57 157.5L56.2 158.5L55.3 159.5L54.4 160.5L53.6 161.4L52.7 162.4L51.8 163.4L50.9 164.4L50 165.4L49.2 166.4L48.3 167.4L47.4 168.4L46.5 169.4L45.7 170.3L44.8 171.3L44 172.2L43.2 173.2L42.3 174.1L41.5 175.1L40.7 176L39.9 176.9L39.2 177.7L38.7 178.4L38.2 178.9"/><path d="M40.1 178.9C41 177.9 43.6 175.1 45.5 172.9C47.5 170.7 49.9 168.2 52 165.8C54.2 163.5 56.5 161.1 58.5 158.8C60.5 156.4 62.5 154.1 63.9 151.7C65.4 149.4 66.3 147 67.2 144.7C68.2 142.4 68.9 139.6 69.5 137.8C70.1 136 70.1 134.9 70.7 133.8C71.3 132.7 72.2 132.2 73.3 131.2C74.3 130.1 75.2 129.1 77.1 127.6C78.9 126.2 82.1 124.2 84.6 122.5C87.1 120.8 89.6 119.1 92.1 117.4C94.6 115.6 97.1 113.9 99.6 112.2C102.1 110.5 105.8 107.9 107.1 107.1" /><path d="M107.1 107.3L107.1 107.7L107 108.1L107 108.7L107 109.3L106.9 110L106.9 110.8L106.8 111.6L106.7 112.4L106.6 113.3L106.4 114.3L106.3 115.4L106.1 116.5L106 117.6L105.8 118.8L105.5 119.8L105.3 120.8L105 121.8L104.7 122.7L104.4 123.6L104 124.5L103.7 125.4L103.3 126.2L102.9 127.1L102.4 127.9L102 128.7L101.6 129.5L101.2 130.2L100.8 130.9L100.3 131.6L99.6 132.4L98.9 133.3L98 134.2L96.9 135.3L95.6 136.4L94.1 137.7L92.6 139L91 140.3L89.4 141.6L87.8 142.8L86.3 143.9L84.9 145L83.4 146.1L81.9 147.1L80.4 148.1L78.9 149L77.4 150L76 150.9L74.6 151.8L73.3 152.6L72 153.5L70.7 154.3L69.5 155.1L68.3 155.8L67.1 156.6L65.9 157.4L64.7 158.3L63.5 159.2L62.3 160.1L61 161L59.7 161.9L58.5 162.9L57.3 163.8L56.3 164.7L55.3 165.5L54.4 166.3L53.7 167L53 167.7L52.4 168.4L51.8 169L51.2 169.7L50.6 170.5L50.1 171.3L49.5 172.2L48.8 173.2L48.2 174.3L47.6 175.4L47 176.5L46.5 177.5L46 178.3L45.7 178.9"/><path d="M47.6 178.9C48.3 177.8 50.3 174 51.8 172C53.4 170 54.5 168.8 56.9 166.9C59.2 164.9 62.9 162.4 66.1 160.3C69.2 158.3 72.1 156.6 75.6 154.5C79.1 152.3 83.2 150.1 87 147.4C90.8 144.8 95.7 141.1 98.3 138.7C100.9 136.3 101.4 135 102.6 133C103.8 131 104.6 129 105.3 126.6C106 124.3 106.4 121.2 106.7 119.1C107 117 106.9 115.6 107.4 114C107.8 112.3 108.3 110.6 109.3 109C110.2 107.4 111.3 106.2 113 104.4C114.8 102.6 117.5 100 119.7 98.3C121.8 96.5 123.9 95.3 126 93.8C128.1 92.3 130.2 90.9 132.3 89.4C134.4 87.9 136.5 86.4 138.6 85C140.7 83.5 143.9 81.3 145 80.5" /><path d="M145.2 80.7L145.2 81.4L145.2 82.2L145.1 83.3L145 84.4L145 85.7L144.9 87L144.7 88.3L144.6 89.7L144.4 91.1L144.2 92.7L143.9 94.3L143.7 96L143.4 97.6L143.1 99.3L142.8 100.9L142.4 102.5L142 104L141.6 105.5L141.2 106.9L140.8 108.3L140.3 109.7L139.8 111.1L139.3 112.4L138.7 113.8L138.1 115.1L137.5 116.4L136.9 117.6L136.2 118.8L135.5 120L134.7 121.3L133.9 122.5L132.9 123.7L131.9 124.9L130.9 126.1L129.8 127.3L128.6 128.4L127.4 129.6L126 130.9L124.4 132.1L122.7 133.4L120.7 134.9L118.5 136.4L116 137.9L113.5 139.5L110.9 141.1L108.3 142.7L105.9 144.1L103.7 145.5L101.6 146.7L99.6 147.9L97.7 149.1L95.8 150.2L94.1 151.2L92.4 152.1L90.7 153L89.2 153.9L87.7 154.6L86.4 155.2L85.2 155.8L84 156.3L82.9 156.7L81.8 157.2L80.6 157.7L79.4 158.3L78.2 158.9L76.9 159.5L75.7 160.1L74.4 160.8L73.2 161.4L71.9 162.1L70.7 162.9L69.5 163.6L68.3 164.4L67 165.3L65.8 166.2L64.6 167.1L63.4 168L62.2 169L61.1 169.9L60.1 170.9L59.1 171.9L58.2 173L57.2 174.2L56.3 175.3L55.5 176.4L54.8 177.4L54.2 178.3L53.8 178.9"/><path d="M55.8 178.9C56.9 177.7 59.5 174 62 171.7C64.6 169.4 68.1 167 71.2 165.1C74.4 163.3 77.7 161.8 80.9 160.3C84.1 158.9 86.5 158.3 90.5 156.4C94.4 154.5 99.2 151.9 104.6 148.8C110.1 145.8 118.4 141.3 123.2 138C128 134.7 130.6 132.2 133.2 129.2C135.8 126.3 137.5 124 138.9 120.3C140.2 116.5 140.5 109.9 141.5 106.7C142.4 103.5 143.1 103.6 144.4 101.2C145.7 98.7 147.2 95.4 149 91.8C150.8 88.2 153.4 82.5 155.3 79.4C157.1 76.2 158.2 74.9 160 72.9C161.8 70.9 163.5 69.7 166.1 67.4C168.7 65 172.1 61.4 175.5 58.6C179 55.8 183.1 53.2 186.9 50.5C190.7 47.8 194.5 45.1 198.3 42.4C202.1 39.7 205.8 36.9 209.6 34.2C213.4 31.5 219.1 27.5 221 26.1" /><path d="M221 26.1C220.9 27.4 220.9 29.4 220.4 33.7C219.9 38 218.7 46.5 218 51.9C217.2 57.3 216.6 61.3 215.8 66.2C214.9 71.1 214 76.3 212.9 81.1C211.7 85.9 210.3 90.3 208.7 94.9C207.1 99.4 205.5 104 203.5 108.2C201.4 112.5 199.1 116.8 196.5 120.3C193.9 123.8 190.9 126.7 187.9 129.2C184.8 131.8 181.4 133.8 178.4 135.4C175.4 136.9 172.5 137.8 169.9 138.8C167.3 139.8 166.7 140 162.8 141.5C158.9 142.9 151.9 145.5 146.5 147.4C141 149.3 134.8 151.4 130.1 152.7C125.4 154.1 122.7 154.4 118.3 155.6C113.9 156.8 108.5 158.2 103.7 159.8C98.8 161.4 93.3 163.2 89.2 165.1C85.1 167.1 82.2 169 79 171.3C75.7 173.6 71.4 177.6 69.9 178.9" /></g>
<path d="M39.5 168L68.1 93.5" stroke="#ffa510" stroke-width="1.4" fill="none"/><path d="M69.8 89.1L69.9 95L65.8 93.4Z" fill="#ffa510"/>
<path d="M61.5 147L79.2 93.3" stroke="#ffa510" stroke-width="1.4" fill="none"/><path d="M80.7 88.8L81.1 94.7L76.9 93.3Z" fill="#ffa510"/>
<path d="M91.2 138L89.5 93.8" stroke="#ffa510" stroke-width="1.4" fill="none"/><path d="M89.3 89.1L91.7 94.5L87.3 94.7Z" fill="#ffa510"/>
<path d="M126 128L101.6 93.8" stroke="#ffa510" stroke-width="1.4" fill="none"/><path d="M98.9 90L103.9 93.2L100.3 95.8Z" fill="#ffa510"/>
<path d="M89 144.7L125 154.3" stroke="#1414f0" stroke-width="1.4" fill="none"/><path d="M129.5 155.5L123.6 156.2L124.8 152Z" fill="#1414f0"/>
<path d="M57.9 155.1L116.7 159.6" stroke="#1414f0" stroke-width="1.4" fill="none"/><path d="M121.4 160L115.7 161.8L116.1 157.4Z" fill="#1414f0"/>
<path d="M39.3 170.5L116.7 167.5" stroke="#1414f0" stroke-width="1.4" fill="none"/><path d="M121.4 167.3L116 169.7L115.8 165.3Z" fill="#1414f0"/>
<path d="M129 129.2L136.2 151" stroke="#1414f0" stroke-width="1.4" fill="none"/><path d="M137.7 155.5L133.9 151L138.1 149.6Z" fill="#1414f0"/>
<path d="M161.8 142.7L149.4 151.4" stroke="#1414f0" stroke-width="1.4" fill="none"/><path d="M145.5 154.1L148.7 149.1L151.3 152.8Z" fill="#1414f0"/>
<text x="53.3" y="85.5" font-family="'Liberation Serif','Times New Roman',serif" font-weight="bold" font-size="10" fill="#ffa510">Reloading curves</text>
<text x="123.5" y="167" font-family="'Liberation Serif','Times New Roman',serif" font-weight="bold" font-size="10" fill="#1414f0">Unloading curves</text>
<text transform="translate(158.4 68.6) rotate(-39)" font-family="'Liberation Serif','Times New Roman',serif" font-weight="bold" font-size="10" fill="#f00">Primary curve</text>
<g fill="#f00" font-family="'Liberation Serif','Noto Serif CJK SC',serif"><text x="209.1" y="168.7" font-size="10.4" font-weight="bold" stroke="#f00" stroke-width="0.4">（</text><text x="221.2" y="169.5" font-size="12.5" font-weight="bold">b</text><text x="230.1" y="168.7" font-size="10.4" font-weight="bold" stroke="#f00" stroke-width="0.4">）</text></g>
<rect x="332.4" y="5.8" width="213.5" height="171.8" fill="none" stroke="#111" stroke-width="1.4"/>
<path d="M332.4 177.6v3.2M356.1 177.6v1.8M379.9 177.6v3.2M403.6 177.6v1.8M427.4 177.6v3.2M451.1 177.6v1.8M474.9 177.6v3.2M498.6 177.6v1.8M522.4 177.6v3.2M545.9 177.6v1.8M332.4 177.6h-3.2M332.4 158.5h-1.8M332.4 139.4h-3.2M332.4 120.3h-1.8M332.4 101.2h-3.2M332.4 82h-1.8M332.4 62.9h-3.2M332.4 43.8h-1.8M332.4 24.7h-3.2M332.4 5.8h-1.8" stroke="#111" stroke-width="1.2" fill="none"/>
<g font-family="'Liberation Serif','Times New Roman',serif" font-weight="bold" font-size="7.3" fill="#111" stroke="#111" stroke-width="0.3"><text x="332.8" y="190" text-anchor="middle">0.0</text><text x="380.3" y="190" text-anchor="middle">0.5</text><text x="427.8" y="190" text-anchor="middle">1.0</text><text x="475.3" y="190" text-anchor="middle">1.5</text><text x="522.8" y="190" text-anchor="middle">2.0</text><text x="326.7" y="180.1" text-anchor="end">0</text><text x="326.7" y="141.9" text-anchor="end">2</text><text x="326.7" y="103.7" text-anchor="end">4</text><text x="326.7" y="65.4" text-anchor="end">6</text><text x="326.7" y="27.2" text-anchor="end">8</text></g>
<text transform="translate(320.3 91.5) rotate(-90)" text-anchor="middle" font-family="'Liberation Serif','Times New Roman',serif" font-weight="bold" font-size="9" fill="#000" stroke="#000" stroke-width="0.2">Stress (MPa)</text>
<text x="439.2" y="202.8" text-anchor="middle" font-family="'Liberation Serif','Times New Roman',serif" font-weight="bold" font-size="9" fill="#000" stroke="#000" stroke-width="0.2">Strain</text>
<g fill="none" stroke="#f00" stroke-width="1.4" stroke-linejoin="round"><path d="M332.4 177.6C332.5 176.6 332.8 173.7 333.2 171.9C333.5 170.1 333.8 168.5 334.3 166.9C334.8 165.3 335.2 164 336 162.3C336.8 160.6 338.1 158.2 339 156.6C340 154.9 340.8 153.7 342 152.4C343.2 151.1 344.7 149.7 346.2 148.7C347.7 147.8 350.1 146.8 350.9 146.5" /><path d="M350.6 146.3L350.6 146.6L350.6 147L350.5 147.6L350.4 148.1L350.4 148.8L350.3 149.4L350.1 150.1L350 150.8L349.8 151.6L349.6 152.4L349.3 153.2L349 154.1L348.8 154.9L348.4 155.8L348.1 156.7L347.7 157.5L347.3 158.4L346.8 159.2L346.3 160L345.8 160.8L345.3 161.6L344.7 162.5L344.2 163.3L343.6 164.2L343.1 165.2L342.5 166.2L341.9 167.2L341.3 168.2L340.7 169.2L340.1 170.2L339.5 171.2L339 172.1L338.6 172.9L338.1 173.7L337.7 174.5L337.3 175.3L336.9 176L336.6 176.7L336.3 177.2L336.1 177.6"/><path d="M337.8 177.6C338.2 176.8 339.3 174.6 340.4 172.6C341.5 170.6 343.2 167.7 344.4 165.6C345.7 163.4 347.1 161.5 348 159.5C349 157.5 349.5 155.3 350.1 153.5C350.6 151.8 351 150.2 351.4 148.9C351.8 147.7 352 146.8 352.5 145.9C353.1 145 353.8 144.4 354.7 143.6C355.6 142.8 357 141.8 358 141C359.1 140.1 360.1 139.4 361.1 138.6C362.1 137.8 363.2 137 364.2 136.3C365.2 135.5 366.2 134.7 367.2 133.9C368.3 133.1 369.8 131.9 370.3 131.5" /><path d="M369.9 131.7L369.8 132.3L369.6 133.1L369.4 134.1L369.2 135.2L368.9 136.3L368.7 137.4L368.4 138.5L368 139.6L367.7 140.6L367.3 141.5L366.9 142.5L366.5 143.5L366.1 144.5L365.6 145.4L365.1 146.4L364.5 147.4L363.9 148.4L363.2 149.4L362.6 150.3L361.8 151.3L361.1 152.3L360.3 153.3L359.5 154.3L358.7 155.2L357.9 156.2L357.1 157.2L356.2 158.2L355.3 159.2L354.4 160.1L353.5 161.1L352.7 162.1L351.8 163.1L350.9 164.1L350 165.1L349.1 166.1L348.2 167.1L347.4 168.1L346.5 169L345.7 170L344.8 170.9L344 171.8L343.2 172.8L342.3 173.8L341.5 174.7L340.7 175.6L340.1 176.4L339.5 177.1L339 177.6"/><path d="M340.9 177.6C341.9 176.6 344.4 173.8 346.4 171.6C348.4 169.4 350.7 166.9 352.9 164.5C355.1 162.2 357.4 159.8 359.4 157.5C361.4 155.1 363.4 152.8 364.8 150.4C366.3 148.1 367.2 145.7 368.1 143.4C369.1 141.1 369.8 138.3 370.4 136.5C371 134.7 371 133.6 371.6 132.5C372.3 131.4 373.1 130.9 374.2 129.8C375.3 128.8 376.1 127.7 378 126.3C379.9 124.8 383 122.9 385.5 121.2C388 119.4 390.5 117.7 393.1 116C395.6 114.3 398.1 112.6 400.6 110.9C403.1 109.2 406.9 106.6 408.1 105.7" /><path d="M408.1 105.9L408.1 106.3L408.1 106.8L408 107.4L408 108L408 108.7L407.9 109.5L407.8 110.3L407.7 111.1L407.6 112L407.5 113L407.3 114.1L407.2 115.2L407 116.3L406.8 117.4L406.6 118.5L406.3 119.5L406 120.5L405.7 121.4L405.4 122.3L405.1 123.2L404.7 124L404.3 124.9L403.9 125.7L403.5 126.6L403 127.4L402.6 128.1L402.2 128.8L401.8 129.6L401.3 130.3L400.7 131.1L399.9 131.9L399 132.9L397.9 133.9L396.6 135.1L395.1 136.4L393.6 137.7L392 139L390.4 140.2L388.8 141.5L387.3 142.6L385.8 143.7L384.3 144.8L382.8 145.8L381.3 146.7L379.8 147.7L378.3 148.6L376.9 149.6L375.5 150.5L374.2 151.3L372.9 152.2L371.7 153L370.4 153.7L369.2 154.5L368 155.3L366.9 156.1L365.6 157L364.4 157.8L363.1 158.8L361.9 159.7L360.6 160.6L359.4 161.6L358.2 162.5L357.1 163.4L356.1 164.2L355.3 165L354.5 165.7L353.8 166.4L353.2 167.1L352.6 167.7L352.1 168.4L351.5 169.2L350.9 170L350.3 170.9L349.7 171.9L349 173L348.4 174.1L347.8 175.2L347.3 176.2L346.9 177L346.6 177.6"/><path d="M348.5 177.6C349.2 176.5 351.1 172.7 352.7 170.7C354.2 168.7 355.4 167.5 357.8 165.6C360.1 163.6 363.8 161.1 367 159C370.1 157 373 155.3 376.5 153.2C380 151 384.2 148.8 388 146.1C391.7 143.5 396.7 139.8 399.3 137.4C401.9 134.9 402.4 133.7 403.6 131.7C404.8 129.7 405.7 127.6 406.4 125.3C407.1 123 407.4 119.9 407.7 117.7C408.1 115.6 408 114.3 408.4 112.6C408.8 110.9 409.3 109.2 410.3 107.7C411.2 106.1 412.4 104.9 414.1 103.1C415.8 101.3 418.6 98.7 420.8 96.9C422.9 95.1 425 94 427.1 92.5C429.2 91 431.3 89.5 433.4 88C435.5 86.6 437.7 85.1 439.8 83.6C441.9 82.1 445.1 79.9 446.1 79.2" /><path d="M522.4 24.7C522.3 26 522.3 28.1 521.8 32.4C521.3 36.7 520.1 45.1 519.4 50.5C518.6 55.9 518 60 517.2 64.9C516.3 69.7 515.4 75 514.2 79.8C513 84.5 511.6 89 510 93.5C508.5 98 506.9 102.7 504.8 106.9C502.8 111.1 500.4 115.4 497.8 118.9C495.2 122.4 492.2 125.3 489.1 127.9C486.1 130.5 482.7 132.7 479.6 134.4C476.6 136.2 474.3 137.3 471.1 138.4C467.9 139.6 464.2 140.3 460.6 141.3C457.1 142.3 453.3 143.3 450 144.5C446.7 145.8 445.4 147.1 440.9 148.9C436.3 150.8 428.8 153.3 422.7 155.4C416.7 157.6 410.6 159.6 404.5 161.7C398.4 163.9 391.3 166.2 386.4 168.2C381.5 170.2 377.8 172.2 375.1 173.8C372.5 175.3 371 177 370.2 177.6" /></g>
<g fill="none" stroke="#f00" stroke-width="1.4" stroke-linejoin="round"><path d="M353.8 177.6C355 175.9 357.9 170.5 360.9 167.3C363.9 164 367.6 160.8 371.8 158.1C376.1 155.4 380.9 153.4 386.4 150.8C391.8 148.3 398.4 145.7 404.5 142.6C410.6 139.6 417.9 136.3 422.7 132.7C427.6 129.1 430.7 124.8 433.6 120.8C436.5 116.9 439 111 440 109" /><path d="M353.8 177.6C355.6 176.6 360.6 174.4 364.5 171.9C368.4 169.4 372.2 165.8 377.3 162.7C382.5 159.6 389.4 156.7 395.5 153.5C401.5 150.3 408.2 146.9 413.6 143.6C419.1 140.3 424.4 137.4 428.2 133.6C432 129.9 434.4 125 436.4 120.8C438.4 116.7 439.4 111 440 109" /><path d="M446 79C445 84 441 104 440 109" /><path d="M440 109C440.7 107.8 442.8 104.2 443.7 101.5C444.6 98.9 444.2 96.5 445.4 93.1C446.7 89.7 448.8 84.7 451.1 81.1C453.3 77.5 456.3 74.3 458.9 71.7C461.6 69.2 464.7 67.2 466.7 65.6C468.8 64.1 469.1 63.9 471.3 62.4C473.4 60.8 476.5 58.6 479.6 56.3C482.8 54 486.8 51.2 490.3 48.7C493.9 46.1 497.5 43.6 501 41C504.6 38.5 508.1 36.1 511.7 33.4C515.3 30.7 520.6 26.2 522.4 24.7" /></g>
<path d="M353.8 177.6L354.7 176.7L356 175.6L357.5 174.2L359.2 172.6L360.9 171.1L362.7 169.6L364.5 168.1L366.3 166.6L368.2 165L370.2 163.4L372.3 161.9L374.6 160.4L377 159L379.6 157.6L382.4 156.3L385.2 155L388 153.6L390.9 152.2L393.9 150.7L396.9 149.3L400 147.8L403.1 146.2L406.1 144.7L409.1 143.1L412 141.5L414.9 139.9L417.8 138.3L420.6 136.7L423.1 135L425.5 133.2L427.5 131.2L429.3 129.2L430.9 127.1L432.4 125L433.7 122.9L435 120.8L436.2 118.7L437.2 116.4L438.1 114.1L438.9 112L439.5 110.3L440 109" fill="none" stroke="#f00" stroke-width="1.1" stroke-dasharray="2.2 2.2"/>
<path d="M332.4 177.6L331.8 176.9L331.9 176L332.1 175L332.2 173.8L332.4 172.7L332.5 171.8L332.7 170.9L332.9 170L333 169.2L333.2 168.3L333.4 167.5L333.7 166.7L333.9 165.9L334.2 165.2L334.4 164.4L334.7 163.7L335 162.9L335.4 162L335.9 161.1L336.3 160.1L336.9 159.1L337.4 158.1L338 157.1L338.5 156.2L339 155.4L339.4 154.7L339.9 154L340.4 153.3L340.9 152.6L341.5 151.9L342.2 151.3L342.8 150.6L343.5 150L344.3 149.3L345 148.7L345.8 148.2L346.7 147.7L347.6 147.2L348.5 146.8L349.4 146.4L350.1 146.1L350.7 145.9L350.5 145.9L369.9 131L407.7 105.2L445.7 78.7L522 24.2" fill="none" stroke="#1414ff" stroke-width="1.8" stroke-dasharray="2.5 1.9"/>
<circle cx="353.8" cy="177.6" r="1.9" fill="#1f4f86"/><circle cx="440" cy="109" r="1.9" fill="#1f4f86"/><circle cx="446" cy="79" r="1.9" fill="#1f4f86"/><circle cx="522" cy="24.3" r="1.9" fill="#1f4f86"/>
<g font-family="'Liberation Serif','Times New Roman',serif" font-weight="bold" font-size="9.3" fill="#f00" text-anchor="middle"><text x="353.8" y="187">A</text><text x="447.6" y="113.6">B</text><text x="447.5" y="75">C</text><text x="522.9" y="21.3">D</text></g>
<g fill="#f00" font-family="'Liberation Serif','Noto Serif CJK SC',serif"><text x="515.1" y="168.7" font-size="10.4" font-weight="bold" stroke="#f00" stroke-width="0.4">（</text><text x="526.9" y="169.5" font-size="12.5" font-weight="bold">c</text><text x="534.6" y="168.7" font-size="10.4" font-weight="bold" stroke="#f00" stroke-width="0.4">）</text></g>
<rect x="331.5" y="248.6" width="213.4" height="172.1" fill="none" stroke="#111" stroke-width="1.4"/>
<path d="M331.5 420.7v3.2M355.2 420.7v1.8M378.9 420.7v3.2M402.5 420.7v1.8M426.2 420.7v3.2M449.9 420.7v1.8M473.6 420.7v3.2M497.2 420.7v1.8M520.9 420.7v3.2M544.6 420.7v1.8M331.5 420.7h-3.2M331.5 401h-1.8M331.5 381.4h-3.2M331.5 361.7h-1.8M331.5 342.1h-3.2M331.5 322.4h-1.8M331.5 302.7h-3.2M331.5 283.1h-1.8M331.5 263.4h-3.2" stroke="#111" stroke-width="1.2" fill="none"/>
<g font-family="'Liberation Serif','Times New Roman',serif" font-weight="bold" font-size="7.3" fill="#111" stroke="#111" stroke-width="0.3"><text x="331.9" y="433.1" text-anchor="middle">0.0</text><text x="379.2" y="433.1" text-anchor="middle">0.5</text><text x="426.6" y="433.1" text-anchor="middle">1.0</text><text x="473.9" y="433.1" text-anchor="middle">1.5</text><text x="521.3" y="433.1" text-anchor="middle">2.0</text><text x="325.8" y="423.2" text-anchor="end">0</text><text x="325.8" y="383.9" text-anchor="end">2</text><text x="325.8" y="344.6" text-anchor="end">4</text><text x="325.8" y="305.2" text-anchor="end">6</text><text x="325.8" y="265.9" text-anchor="end">8</text></g>
<text transform="translate(318.8 335.2) rotate(-90)" text-anchor="middle" font-family="'Liberation Serif','Times New Roman',serif" font-weight="bold" font-size="9" fill="#000" stroke="#000" stroke-width="0.2">Stress (MPa)</text>
<text x="438.2" y="446.2" text-anchor="middle" font-family="'Liberation Serif','Times New Roman',serif" font-weight="bold" font-size="9" fill="#000" stroke="#000" stroke-width="0.2">Strain</text>
<g fill="none" stroke="#f00" stroke-width="1.5" stroke-linejoin="round"><path d="M331.5 420.7C331.6 420 331.9 418 332.3 416.4C332.6 414.7 332.9 413.2 333.8 410.9C334.6 408.5 336 405.1 337.4 402.4C338.8 399.8 340.1 397.3 342.2 394.9C344.3 392.6 346.9 390.7 349.7 388.5C352.5 386.2 355.7 384.1 358.9 381.6C362.1 379.1 364.2 377.1 368.9 373.5C373.6 369.9 380.6 364.6 386.9 360.1C393.2 355.7 400.8 351.2 407 347C413.2 342.8 417.8 339.5 424.1 335C430.5 330.4 439.6 323.8 445.1 319.6C450.7 315.5 451.6 314.5 457.5 310C463.3 305.6 469.4 300.7 480 292.9C490.6 285.1 514.1 268.3 520.9 263.4" /><path d="M349.7 388.5C349.6 389.2 349.5 391.2 349 393.2C348.5 395.1 347.8 397.8 346.7 400.1C345.7 402.4 344.1 404.4 342.7 406.9C341.2 409.4 339.4 412.7 338.1 415C336.9 417.3 335.7 419.7 335.2 420.7" /><path d="M368.9 373.5C368.6 374.9 367.9 378.9 367 381.6C366.1 384.3 365.1 387 363.5 389.6C362 392.3 359.8 395 357.7 397.7C355.6 400.4 353.1 403.1 350.8 405.8C348.5 408.4 346 411.3 343.9 413.8C341.8 416.3 339.1 419.6 338.1 420.7" /><path d="M407 347C406.9 347.9 406.9 350 406.6 352.3C406.3 354.6 405.9 358.3 405.2 360.9C404.5 363.6 403.6 365.9 402.3 368.2C401.1 370.5 400.6 371.9 397.9 374.7C395.2 377.4 390.1 381.7 386.2 384.7C382.3 387.7 378.1 390.3 374.5 392.8C370.9 395.2 367.9 397.1 364.6 399.5C361.4 401.8 357.6 404.7 355.2 406.9C352.7 409.2 351.6 410.5 350 412.8C348.4 415.1 346.3 419.4 345.6 420.7" /><path d="M445.1 319.6C445 321.2 445 325.2 444.5 328.9C444 332.6 443.3 337.9 442.3 342.1C441.3 346.2 440.2 350 438.6 353.7C437 357.3 435.5 360.5 432.8 363.9C430.2 367.3 427.5 370.2 422.6 373.9C417.7 377.6 409.2 382.8 403.6 386.3C398 389.8 393.1 392.8 389.1 394.9C385 397.1 382.6 397.8 379.3 399.5C376 401.1 372.6 402.8 369.4 405C366.2 407.1 362.6 409.8 360 412.4C357.4 415.1 354.7 419.3 353.7 420.7" /><path d="M520.9 263.4C520.8 264.7 520.8 266.9 520.3 271.3C519.8 275.7 518.6 284.4 517.9 290C517.1 295.5 516.5 299.7 515.7 304.7C514.8 309.7 513.9 315.1 512.8 320C511.6 325 510.2 329.5 508.6 334.2C507 338.8 505.4 343.6 503.4 348C501.3 352.3 499 356.7 496.4 360.3C493.8 363.9 490.8 367 487.8 369.6C484.7 372.2 481.3 374.2 478.3 375.9C475.3 377.5 472.4 378.4 469.8 379.4C467.2 380.5 466.6 380.7 462.7 382.2C458.8 383.6 451.8 386.3 446.4 388.3C440.9 390.2 434.7 392.4 430 393.8C425.3 395.2 422.6 395.5 418.2 396.7C413.8 397.9 408.4 399.4 403.6 401C398.7 402.7 393.2 404.6 389.1 406.5C385 408.5 382.1 410.5 378.9 412.8C375.6 415.2 371.3 419.4 369.8 420.7" /></g>
<g fill="#f00" font-family="'Liberation Serif','Noto Serif CJK SC',serif"><text x="511" y="413" font-size="10.4" font-weight="bold" stroke="#f00" stroke-width="0.4">（</text><text x="522.9" y="413.8" font-size="12.5" font-weight="bold">d</text><text x="532.1" y="413" font-size="10.4" font-weight="bold" stroke="#f00" stroke-width="0.4">）</text></g>
</svg></body></html>
